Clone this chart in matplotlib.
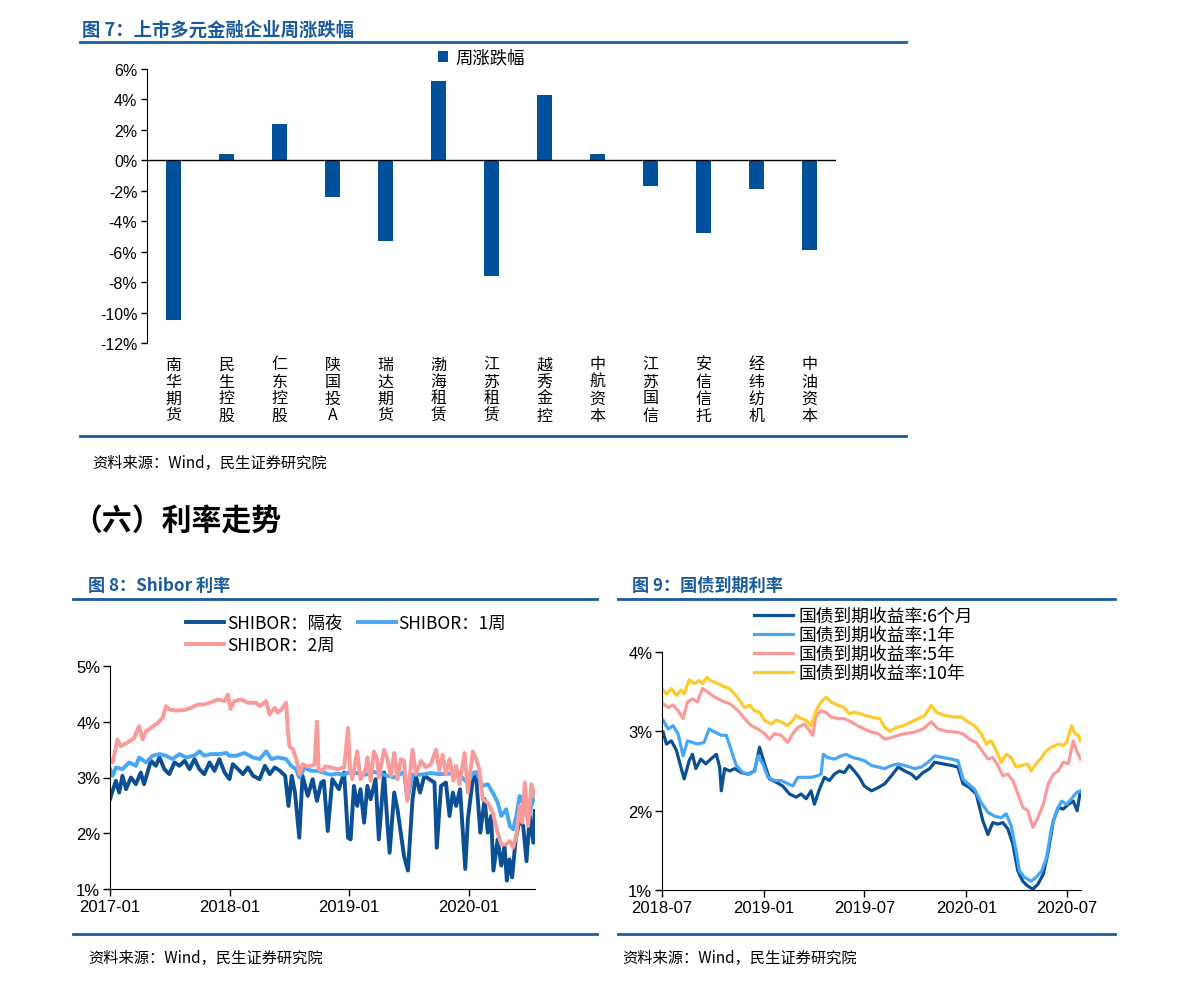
import matplotlib
matplotlib.use("Agg")
import matplotlib.pyplot as plt
import matplotlib.dates as mdates
from matplotlib.lines import Line2D
from matplotlib.ticker import FuncFormatter
import pandas as pd

plt.rcParams['font.family'] = ['Noto Sans CJK SC', 'DejaVu Sans']

# ---------------- 图7 data
companies = ['南华期货', '民生控股', '仁东控股', '陕国投A', '瑞达期货', '渤海租赁', '江苏租赁',
             '越秀金控', '中航资本', '江苏国信', '安信信托', '经纬纺机', '中油资本']
weekly_chg = [-10.5, 0.4, 2.4, -2.4, -5.3, 5.2, -7.6, 4.3, 0.4, -1.7, -4.8, -1.9, -5.9]

# ---------------- 图8 Shibor data (%)
on_dates = ['2017-01-01', '2017-01-09', '2017-01-19', '2017-01-29', '2017-02-08', '2017-02-19', '2017-03-06',
            '2017-03-21', '2017-04-05', '2017-04-15', '2017-05-06', '2017-05-21', '2017-06-01', '2017-06-16',
            '2017-07-01', '2017-07-17', '2017-08-01', '2017-08-17', '2017-09-01', '2017-09-16', '2017-10-01',
            '2017-10-16', '2017-11-01', '2017-11-16', '2017-12-01', '2017-12-17', '2018-01-01', '2018-01-11',
            '2018-01-27', '2018-02-11', '2018-02-26', '2018-03-14', '2018-04-03', '2018-04-19', '2018-05-04',
            '2018-05-19', '2018-06-04', '2018-06-20', '2018-06-30', '2018-07-10', '2018-07-20', '2018-08-02',
            '2018-08-12', '2018-08-28', '2018-09-12', '2018-09-25', '2018-10-08', '2018-10-16', '2018-10-28',
            '2018-11-11', '2018-12-01', '2018-12-17', '2018-12-29', '2019-01-06', '2019-01-16', '2019-01-26',
            '2019-02-05', '2019-02-16', '2019-02-26', '2019-03-08', '2019-03-23', '2019-04-02', '2019-04-18',
            '2019-04-28', '2019-05-05', '2019-05-19', '2019-05-29', '2019-06-08', '2019-06-18', '2019-06-30',
            '2019-07-14', '2019-07-24', '2019-08-06', '2019-08-19', '2019-09-03', '2019-09-19', '2019-09-26',
            '2019-10-09', '2019-10-24', '2019-11-04', '2019-11-14', '2019-11-24', '2019-12-06', '2019-12-22',
            '2019-12-30', '2020-01-14', '2020-01-24', '2020-02-06', '2020-02-19', '2020-02-29', '2020-03-10',
            '2020-03-17', '2020-03-30', '2020-04-10', '2020-04-20', '2020-04-27', '2020-05-05', '2020-05-13',
            '2020-05-24', '2020-06-05', '2020-06-16', '2020-06-26', '2020-07-06', '2020-07-17', '2020-07-21']
shibor_on = [2.61, 2.76, 2.94, 2.73, 3.03, 2.79, 3.0, 2.88, 3.09, 2.88, 3.3, 3.21, 3.36, 3.15,
             3.06, 3.27, 3.21, 3.3, 3.15, 3.33, 3.15, 3.06, 3.27, 3.12, 3.33, 3.09, 2.97, 3.24,
             3.15, 3.06, 3.18, 3.03, 2.97, 3.21, 3.06, 3.18, 3.12, 3.03, 2.49, 3.03, 2.73, 1.92,
             3.03, 2.67, 2.97, 2.58, 2.91, 2.94, 2.04, 2.97, 2.79, 3.09, 1.92, 1.89, 2.85, 2.49,
             2.79, 2.19, 2.85, 2.61, 2.97, 1.89, 3.09, 2.19, 1.65, 2.73, 2.43, 2.01, 1.59, 1.33,
             2.61, 3.03, 2.73, 3.03, 2.97, 2.91, 1.74, 2.85, 2.91, 2.31, 2.73, 2.49, 2.79, 1.36,
             2.25, 2.97, 3.03, 2.01, 2.61, 2.01, 2.31, 1.33, 1.89, 1.42, 1.77, 1.15, 1.53, 1.21,
             1.89, 2.25, 2.13, 1.5, 2.31, 1.83, 2.4]

w1_dates = ['2017-01-01', '2017-01-09', '2017-01-19', '2017-02-08', '2017-03-01', '2017-03-21', '2017-03-31',
            '2017-04-21', '2017-05-11', '2017-06-01', '2017-06-21', '2017-07-11', '2017-08-01', '2017-08-21',
            '2017-09-16', '2017-10-01', '2017-10-16', '2017-11-06', '2017-12-01', '2017-12-22', '2018-01-01',
            '2018-01-21', '2018-02-16', '2018-03-13', '2018-04-03', '2018-04-23', '2018-05-09', '2018-05-29',
            '2018-06-23', '2018-07-08', '2018-07-23', '2018-08-02', '2018-08-18', '2018-09-07', '2018-09-28',
            '2018-10-13', '2018-11-06', '2018-11-26', '2018-12-17', '2019-01-04', '2019-01-26', '2019-02-21',
            '2019-03-18', '2019-04-18', '2019-05-19', '2019-06-18', '2019-06-28', '2019-07-14', '2019-08-09',
            '2019-09-08', '2019-10-04', '2019-11-04', '2019-12-04', '2019-12-30', '2020-01-14', '2020-01-24',
            '2020-02-13', '2020-02-29', '2020-03-15', '2020-03-30', '2020-04-10', '2020-04-25', '2020-05-06',
            '2020-05-16', '2020-05-26', '2020-06-05', '2020-06-21', '2020-07-01', '2020-07-11', '2020-07-21']
shibor_1w = [3.15, 3.03, 3.18, 3.15, 3.27, 3.21, 3.36, 3.27, 3.39, 3.42, 3.39, 3.33, 3.42, 3.36,
             3.39, 3.47, 3.39, 3.42, 3.42, 3.44, 3.39, 3.39, 3.44, 3.36, 3.33, 3.47, 3.33, 3.36,
             3.33, 3.21, 3.15, 3.0, 3.18, 3.12, 3.12, 3.09, 3.05, 3.07, 3.05, 3.1, 3.08, 3.05,
             3.1, 3.05, 3.0, 3.1, 2.6, 3.05, 3.05, 3.08, 3.06, 3.07, 3.05, 2.9, 3.08, 3.1,
             2.85, 2.88, 2.73, 2.55, 2.31, 2.43, 2.13, 2.07, 2.31, 2.67, 2.49, 2.25, 2.5, 2.67]

w2_dates = ['2017-01-01', '2017-01-09', '2017-01-24', '2017-02-03', '2017-03-01', '2017-03-16', '2017-03-26',
            '2017-03-31', '2017-04-11', '2017-04-21', '2017-05-06', '2017-05-27', '2017-06-11', '2017-06-21',
            '2017-07-01', '2017-07-22', '2017-08-16', '2017-09-06', '2017-09-26', '2017-10-16', '2017-11-06',
            '2017-11-26', '2017-12-17', '2017-12-27', '2018-01-04', '2018-01-16', '2018-02-06', '2018-02-26',
            '2018-03-24', '2018-04-03', '2018-04-23', '2018-05-03', '2018-05-19', '2018-05-29', '2018-06-08',
            '2018-06-23', '2018-06-28', '2018-07-03', '2018-07-14', '2018-07-24', '2018-08-03', '2018-08-13',
            '2018-08-24', '2018-09-08', '2018-09-18', '2018-09-25', '2018-09-30', '2018-10-13', '2018-10-21',
            '2018-11-06', '2018-11-26', '2018-12-17', '2018-12-29', '2019-01-04', '2019-01-11', '2019-01-26',
            '2019-02-05', '2019-02-21', '2019-02-26', '2019-03-08', '2019-03-18', '2019-03-28', '2019-04-02',
            '2019-04-18', '2019-04-28', '2019-05-09', '2019-05-19', '2019-05-29', '2019-06-08', '2019-06-18',
            '2019-06-28', '2019-07-14', '2019-07-24', '2019-08-09', '2019-08-24', '2019-09-08', '2019-09-24',
            '2019-10-04', '2019-10-14', '2019-10-24', '2019-11-04', '2019-11-16', '2019-11-24', '2019-12-04',
            '2019-12-20', '2019-12-30', '2020-01-14', '2020-01-24', '2020-02-03', '2020-02-13', '2020-02-29',
            '2020-03-15', '2020-03-30', '2020-04-10', '2020-04-25', '2020-05-06', '2020-05-16', '2020-05-26',
            '2020-06-05', '2020-06-13', '2020-06-21', '2020-07-01', '2020-07-11', '2020-07-21']
shibor_2w = [3.33, 3.27, 3.68, 3.56, 3.65, 3.71, 3.86, 3.92, 3.68, 3.83, 3.89, 3.98, 4.07, 4.28,
             4.22, 4.2, 4.21, 4.25, 4.31, 4.31, 4.35, 4.4, 4.37, 4.49, 4.23, 4.37, 4.4, 4.34,
             4.34, 4.28, 4.37, 4.13, 4.25, 4.16, 4.22, 4.34, 3.86, 3.56, 3.5, 3.33, 3.06, 3.24,
             3.2, 3.21, 3.24, 4.0, 3.15, 3.12, 3.2, 3.18, 3.15, 3.18, 3.89, 3.15, 2.97, 3.47,
             2.97, 3.15, 3.36, 2.94, 3.47, 3.33, 3.0, 3.5, 3.33, 3.03, 3.44, 2.97, 3.33, 3.3,
             2.58, 3.5, 3.06, 3.3, 3.18, 3.24, 3.5, 3.12, 3.41, 3.06, 3.33, 2.94, 3.21, 2.88,
             3.44, 2.73, 3.47, 3.33, 3.15, 2.61, 2.55, 2.37, 2.01, 1.8, 1.8, 1.86, 1.74, 1.95,
             2.49, 2.19, 2.91, 2.13, 2.88, 2.67]

# ---------------- 图9 国债到期收益率 data (%)
m6_dates = ['2018-07-03', '2018-07-09', '2018-07-18', '2018-07-27', '2018-08-04', '2018-08-10', '2018-08-19',
            '2018-08-25', '2018-08-31', '2018-09-09', '2018-09-18', '2018-09-27', '2018-10-07', '2018-10-13',
            '2018-10-16', '2018-10-22', '2018-10-31', '2018-11-09', '2018-11-21', '2018-12-03', '2018-12-15',
            '2018-12-24', '2019-01-02', '2019-01-11', '2019-01-23', '2019-02-04', '2019-02-16', '2019-02-28',
            '2019-03-09', '2019-03-18', '2019-03-27', '2019-04-02', '2019-04-11', '2019-04-20', '2019-04-29',
            '2019-05-08', '2019-05-17', '2019-05-26', '2019-06-04', '2019-06-13', '2019-06-22', '2019-07-01',
            '2019-07-14', '2019-07-26', '2019-08-07', '2019-08-19', '2019-08-31', '2019-09-12', '2019-09-24',
            '2019-10-03', '2019-10-15', '2019-10-27', '2019-11-05', '2019-11-20', '2019-12-05', '2019-12-17',
            '2019-12-26', '2020-01-07', '2020-01-19', '2020-01-31', '2020-02-09', '2020-02-18', '2020-02-27',
            '2020-03-07', '2020-03-16', '2020-03-25', '2020-04-03', '2020-04-12', '2020-04-21', '2020-04-30',
            '2020-05-09', '2020-05-19', '2020-05-28', '2020-06-06', '2020-06-15', '2020-06-24', '2020-07-03',
            '2020-07-12', '2020-07-19', '2020-07-24']
ytm_6m = [2.99, 2.84, 2.88, 2.76, 2.55, 2.4, 2.63, 2.71, 2.53, 2.65, 2.59, 2.65, 2.71, 2.55,
          2.25, 2.53, 2.5, 2.53, 2.48, 2.46, 2.5, 2.8, 2.59, 2.4, 2.36, 2.31, 2.21, 2.17,
          2.21, 2.15, 2.25, 2.08, 2.27, 2.42, 2.38, 2.46, 2.5, 2.48, 2.57, 2.5, 2.42, 2.31,
          2.25, 2.29, 2.34, 2.44, 2.55, 2.5, 2.46, 2.4, 2.48, 2.53, 2.61, 2.59, 2.57, 2.55,
          2.34, 2.29, 2.21, 1.87, 1.7, 1.85, 1.83, 1.85, 1.77, 1.58, 1.24, 1.11, 1.05, 1.01,
          1.07, 1.2, 1.49, 1.87, 2.04, 2.02, 2.08, 2.12, 2.0, 2.21]

y1_dates = ['2018-07-03', '2018-07-12', '2018-07-21', '2018-07-30', '2018-08-08', '2018-08-16', '2018-08-25',
            '2018-09-03', '2018-09-15', '2018-09-24', '2018-10-04', '2018-10-16', '2018-10-25', '2018-11-03',
            '2018-11-12', '2018-11-24', '2018-12-06', '2018-12-15', '2018-12-21', '2018-12-30', '2019-01-08',
            '2019-01-20', '2019-02-01', '2019-02-13', '2019-02-22', '2019-03-03', '2019-03-15', '2019-03-27',
            '2019-04-08', '2019-04-14', '2019-04-18', '2019-04-26', '2019-05-08', '2019-05-20', '2019-05-29',
            '2019-06-10', '2019-06-22', '2019-07-01', '2019-07-14', '2019-07-26', '2019-08-07', '2019-08-19',
            '2019-08-31', '2019-09-12', '2019-09-30', '2019-10-12', '2019-10-24', '2019-11-05', '2019-11-20',
            '2019-12-05', '2019-12-17', '2019-12-26', '2020-01-04', '2020-01-16', '2020-01-28', '2020-02-09',
            '2020-02-21', '2020-03-04', '2020-03-13', '2020-03-22', '2020-03-31', '2020-04-06', '2020-04-15',
            '2020-04-27', '2020-05-06', '2020-05-16', '2020-05-25', '2020-06-03', '2020-06-12', '2020-06-21',
            '2020-06-30', '2020-07-09', '2020-07-18', '2020-07-25']
ytm_1y = [3.14, 3.03, 3.07, 2.97, 2.69, 2.88, 2.86, 2.84, 2.86, 3.03, 2.99, 2.95, 2.95, 2.76,
          2.57, 2.48, 2.46, 2.5, 2.69, 2.59, 2.42, 2.38, 2.38, 2.34, 2.31, 2.42, 2.42, 2.42,
          2.44, 2.46, 2.71, 2.67, 2.65, 2.69, 2.71, 2.67, 2.65, 2.63, 2.57, 2.55, 2.53, 2.57,
          2.59, 2.57, 2.53, 2.55, 2.61, 2.69, 2.67, 2.65, 2.63, 2.4, 2.34, 2.27, 2.1, 1.98,
          1.93, 1.91, 1.96, 1.81, 1.49, 1.24, 1.16, 1.11, 1.16, 1.24, 1.41, 1.79, 2.0, 2.12,
          2.08, 2.15, 2.23, 2.25]

y5_dates = ['2018-07-03', '2018-07-12', '2018-07-21', '2018-07-30', '2018-08-08', '2018-08-16', '2018-08-25',
            '2018-09-03', '2018-09-12', '2018-09-21', '2018-09-30', '2018-10-10', '2018-10-22', '2018-10-31',
            '2018-11-09', '2018-11-18', '2018-11-27', '2018-12-09', '2018-12-21', '2019-01-02', '2019-01-11',
            '2019-01-20', '2019-02-01', '2019-02-13', '2019-02-22', '2019-03-03', '2019-03-15', '2019-03-24',
            '2019-03-30', '2019-04-05', '2019-04-14', '2019-04-23', '2019-05-02', '2019-05-14', '2019-05-26',
            '2019-06-07', '2019-06-19', '2019-07-01', '2019-07-14', '2019-07-26', '2019-08-07', '2019-08-19',
            '2019-08-31', '2019-09-12', '2019-09-30', '2019-10-15', '2019-10-30', '2019-11-11', '2019-11-26',
            '2019-12-14', '2019-12-26', '2020-01-07', '2020-01-19', '2020-01-31', '2020-02-09', '2020-02-18',
            '2020-02-27', '2020-03-07', '2020-03-16', '2020-03-25', '2020-04-03', '2020-04-12', '2020-04-21',
            '2020-04-30', '2020-05-09', '2020-05-19', '2020-05-28', '2020-06-06', '2020-06-15', '2020-06-24',
            '2020-07-03', '2020-07-12', '2020-07-18', '2020-07-25']
ytm_5y = [3.35, 3.3, 3.33, 3.26, 3.16, 3.37, 3.41, 3.37, 3.54, 3.5, 3.45, 3.41, 3.37, 3.35,
          3.3, 3.24, 3.16, 3.07, 3.03, 2.97, 2.9, 2.97, 2.95, 2.86, 2.97, 3.05, 3.09, 3.01,
          2.95, 3.2, 3.26, 3.24, 3.18, 3.16, 3.16, 3.12, 3.07, 3.03, 2.99, 2.97, 2.9, 2.92,
          2.95, 2.97, 2.99, 3.03, 3.12, 3.03, 3.0, 2.99, 2.97, 2.9, 2.86, 2.74, 2.65, 2.67,
          2.57, 2.44, 2.46, 2.38, 2.21, 2.04, 2.0, 1.79, 1.91, 2.08, 2.34, 2.46, 2.5, 2.61,
          2.59, 2.88, 2.76, 2.65]

y10_dates = ['2018-07-03', '2018-07-09', '2018-07-18', '2018-07-27', '2018-08-04', '2018-08-10', '2018-08-19',
             '2018-08-28', '2018-09-06', '2018-09-12', '2018-09-20', '2018-09-27', '2018-10-10', '2018-10-22',
             '2018-10-31', '2018-11-09', '2018-11-18', '2018-11-27', '2018-12-06', '2018-12-15', '2018-12-24',
             '2019-01-02', '2019-01-14', '2019-01-23', '2019-02-01', '2019-02-13', '2019-02-22', '2019-02-28',
             '2019-03-09', '2019-03-18', '2019-03-27', '2019-04-05', '2019-04-14', '2019-04-23', '2019-05-02',
             '2019-05-14', '2019-05-26', '2019-06-04', '2019-06-13', '2019-06-25', '2019-07-02', '2019-07-14',
             '2019-07-29', '2019-08-07', '2019-08-16', '2019-08-28', '2019-09-09', '2019-09-24', '2019-10-06',
             '2019-10-18', '2019-10-30', '2019-11-08', '2019-11-23', '2019-12-11', '2019-12-23', '2020-01-04',
             '2020-01-16', '2020-01-28', '2020-02-06', '2020-02-15', '2020-02-24', '2020-03-04', '2020-03-13',
             '2020-03-22', '2020-03-31', '2020-04-09', '2020-04-21', '2020-04-27', '2020-05-06', '2020-05-16',
             '2020-05-25', '2020-06-03', '2020-06-15', '2020-06-24', '2020-06-30', '2020-07-09', '2020-07-15',
             '2020-07-21', '2020-07-25']
ytm_10y = [3.52, 3.47, 3.54, 3.45, 3.52, 3.47, 3.65, 3.6, 3.64, 3.6, 3.68, 3.64, 3.6, 3.56,
           3.54, 3.47, 3.39, 3.3, 3.33, 3.26, 3.24, 3.14, 3.09, 3.14, 3.12, 3.07, 3.14, 3.2,
           3.16, 3.14, 3.07, 3.26, 3.37, 3.43, 3.37, 3.33, 3.3, 3.22, 3.24, 3.22, 3.2, 3.18,
           3.16, 3.05, 3.0, 3.05, 3.07, 3.12, 3.16, 3.2, 3.33, 3.24, 3.2, 3.18, 3.18, 3.12,
           3.07, 2.97, 2.84, 2.88, 2.76, 2.61, 2.71, 2.67, 2.55, 2.57, 2.59, 2.5, 2.59, 2.67,
           2.76, 2.8, 2.84, 2.82, 2.86, 3.07, 2.97, 2.95, 2.88]

# ---------------- styles
W, H = 1191, 987
BLUE_T = '#1b5a9b'
BAR_C = '#00509b'
C_ON, C_1W, C_2W = '#0b4f94', '#47a7f5', '#fa9a9a'
C_10Y = '#ffca2c'
TICK_FONT = ['Liberation Sans', 'DejaVu Sans']


def fx(px):
    return px / W


def fy(py):
    return 1 - py / H


def rule(fig, x0, x1, y, lw=2.0):
    fig.add_artist(Line2D([fx(x0), fx(x1)], [fy(y), fy(y)], transform=fig.transFigure,
                          color=BLUE_T, lw=lw))


def pct(v, p):
    return f'{v:.0f}%'


fig = plt.figure(figsize=(W / 100, H / 100), dpi=100)

# ================= 图7
fig.text(fx(82), fy(30), '图 7：上市多元金融企业周涨跌幅', color=BLUE_T, fontsize=13.2,
         fontweight='bold', va='center', ha='left')
rule(fig, 80, 906, 43)

ax1 = fig.add_axes([fx(147), fy(344), fx(836) - fx(147), fy(70) - fy(344)])
xs = list(range(len(companies)))
ax1.bar(xs, weekly_chg, width=0.3, color=BAR_C, label='周涨跌幅')
ax1.set_xlim(-0.5, len(companies) - 0.5)
ax1.set_ylim(-12, 6)
ax1.set_yticks(range(-12, 7, 2))
ax1.yaxis.set_major_formatter(FuncFormatter(pct))
for lab in ax1.get_yticklabels():
    lab.set_family(['Liberation Sans Narrow', 'Liberation Sans', 'DejaVu Sans'])
    lab.set_fontsize(11.5)
ax1.tick_params(axis='y', length=4, width=1, direction='out', pad=3)
ax1.spines['top'].set_visible(False)
ax1.spines['right'].set_visible(False)
ax1.spines['bottom'].set_visible(False)
ax1.axhline(0, color='black', lw=1)
ax1.set_xticks(xs)
ax1.set_xticklabels(['\n'.join(c) for c in companies], fontsize=11.5, linespacing=1.0)
ax1.tick_params(axis='x', length=0, pad=9)
ax1.legend(loc='center', bbox_to_anchor=(fx(481), fy(59)), bbox_transform=fig.transFigure,
           frameon=False, fontsize=12.5, handlelength=0.6, handleheight=0.6, handletextpad=0.4)

rule(fig, 80, 906, 437)
fig.text(fx(92), fy(463), '资料来源：Wind，民生证券研究院', fontsize=11, va='center', ha='left')

fig.text(fx(72), fy(522), '（六）利率走势', fontsize=21.5, fontweight='bold', va='center', ha='left')

# ================= 图8
fig.text(fx(88), fy(586), '图 8：Shibor 利率', color=BLUE_T, fontsize=12.3,
         fontweight='bold', va='center', ha='left')
rule(fig, 73, 597, 600)

ax2 = fig.add_axes([fx(110), fy(890), fx(535) - fx(110), fy(667) - fy(890)])
l_on, = ax2.plot(pd.to_datetime(on_dates), shibor_on, color=C_ON, lw=2.8, label='SHIBOR：隔夜')
l_1w, = ax2.plot(pd.to_datetime(w1_dates), shibor_1w, color=C_1W, lw=2.8, label='SHIBOR：1周')
l_2w, = ax2.plot(pd.to_datetime(w2_dates), shibor_2w, color=C_2W, lw=2.8, label='SHIBOR：2周')
ax2.set_xlim(pd.Timestamp('2017-01-01'), pd.Timestamp('2020-07-22'))
ax2.set_ylim(1, 5)
ax2.set_yticks([1, 2, 3, 4, 5])
ax2.yaxis.set_major_formatter(FuncFormatter(pct))
ax2.xaxis.set_major_locator(mdates.MonthLocator(bymonth=1))
ax2.xaxis.set_major_formatter(mdates.DateFormatter('%Y-%m'))
ax2.spines['top'].set_visible(False)
ax2.spines['right'].set_visible(False)
ax2.tick_params(length=5, width=1, direction='out', labelsize=12, pad=2)
for lab in ax2.get_xticklabels() + ax2.get_yticklabels():
    lab.set_family(TICK_FONT)
# column-major fill: row 1 = 隔夜, 1周 ; row 2 = 2周
ax2.legend([l_on, l_2w, l_1w], [l_on.get_label(), l_2w.get_label(), l_1w.get_label()],
           loc='upper left', bbox_to_anchor=(fx(186), fy(615)), bbox_transform=fig.transFigure,
           ncol=2, frameon=False, fontsize=12.5, handlelength=2.2, handletextpad=0.15,
           columnspacing=0.9, labelspacing=0.25, borderpad=0, borderaxespad=0)

rule(fig, 73, 597, 935)
fig.text(fx(88), fy(958), '资料来源：Wind，民生证券研究院', fontsize=11, va='center', ha='left')

# ================= 图9
fig.text(fx(632), fy(586), '图 9：国债到期利率', color=BLUE_T, fontsize=12.3,
         fontweight='bold', va='center', ha='left')
rule(fig, 618, 1115, 600)

ax3 = fig.add_axes([fx(662), fy(891), fx(1081) - fx(662), fy(653) - fy(891)])
ax3.plot(pd.to_datetime(m6_dates), ytm_6m, color=C_ON, lw=2.3, label='国债到期收益率:6个月')
ax3.plot(pd.to_datetime(y1_dates), ytm_1y, color=C_1W, lw=2.3, label='国债到期收益率:1年')
ax3.plot(pd.to_datetime(y5_dates), ytm_5y, color=C_2W, lw=2.3, label='国债到期收益率:5年')
ax3.plot(pd.to_datetime(y10_dates), ytm_10y, color=C_10Y, lw=2.3, label='国债到期收益率:10年')
ax3.set_xlim(pd.Timestamp('2018-07-01'), pd.Timestamp('2020-07-26'))
ax3.set_ylim(1, 4)
ax3.set_yticks([1, 2, 3, 4])
ax3.yaxis.set_major_formatter(FuncFormatter(pct))
ax3.xaxis.set_major_locator(mdates.MonthLocator(bymonth=[1, 7]))
ax3.xaxis.set_major_formatter(mdates.DateFormatter('%Y-%m'))
ax3.spines['top'].set_visible(False)
ax3.spines['right'].set_visible(False)
ax3.tick_params(length=5, width=1, direction='out', labelsize=12, pad=2)
for lab in ax3.get_xticklabels() + ax3.get_yticklabels():
    lab.set_family(TICK_FONT)
ax3.legend(loc='upper left', bbox_to_anchor=(fx(754), fy(608)), bbox_transform=fig.transFigure,
           ncol=1, frameon=False, fontsize=12.8, handlelength=2.2, handletextpad=0.3,
           labelspacing=0.06, borderpad=0, borderaxespad=0)

rule(fig, 618, 1115, 935)
fig.text(fx(622), fy(958), '资料来源：Wind，民生证券研究院', fontsize=11, va='center', ha='left')

fig.savefig('out.png', dpi=100)
